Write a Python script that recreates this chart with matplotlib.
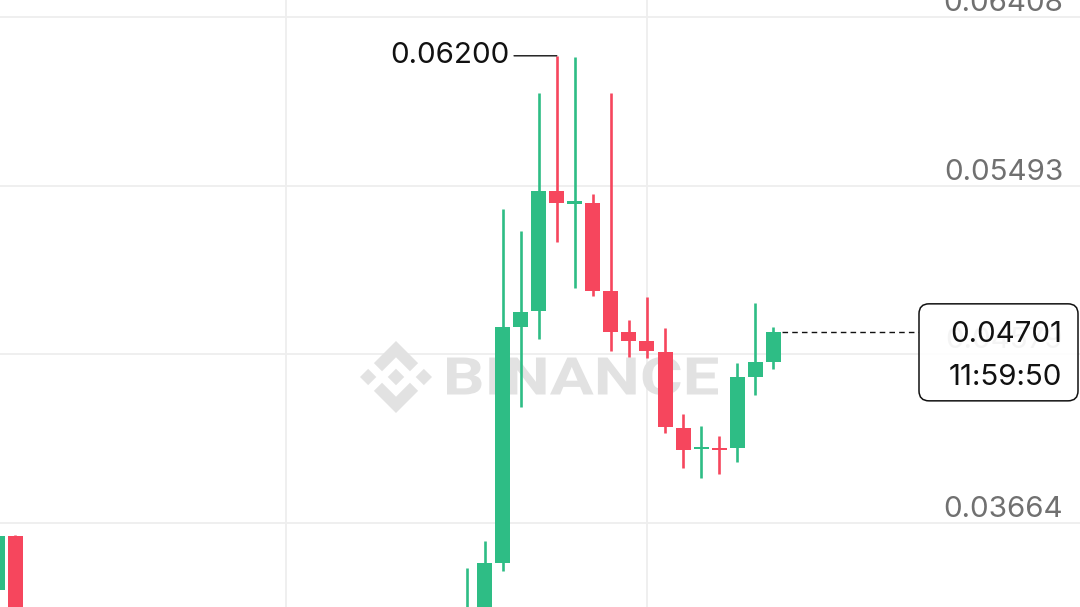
import matplotlib
matplotlib.use("Agg")
import matplotlib.pyplot as plt
from matplotlib.patches import FancyBboxPatch, Polygon, PathPatch
from matplotlib.textpath import TextPath
from matplotlib.font_manager import FontProperties
from matplotlib.transforms import Affine2D, IdentityTransform
from matplotlib.lines import Line2D

# ---------------- data ----------------
slots = [-1, 0, 25, 26, 27, 28, 29, 30, 31, 32, 33, 34, 35, 36, 37, 38, 39, 40, 41, 42]
opens = [0.03299, 0.03592, 0.03000, 0.03160, 0.03446, 0.04727, 0.04814, 0.05466, 0.05400,
         0.05401, 0.04923, 0.04700, 0.04651, 0.04592, 0.04179, 0.04068, 0.04068, 0.04070,
         0.04456, 0.04537]
highs = [0.03603, 0.03598, 0.03419, 0.03565, 0.05368, 0.05249, 0.05998, 0.06200, 0.06195,
         0.05450, 0.05998, 0.04765, 0.04890, 0.04722, 0.04255, 0.04190, 0.04135, 0.04532,
         0.04858, 0.04725]
lows = [0.03280, 0.03100, 0.02950, 0.03120, 0.03402, 0.04293, 0.04662, 0.05189, 0.04939,
        0.04896, 0.04597, 0.04564, 0.04559, 0.04152, 0.03962, 0.03907, 0.03929, 0.03994,
        0.04358, 0.04499]
closes = [0.03592, 0.03150, 0.03160, 0.03446, 0.04727, 0.04809, 0.05466, 0.05401, 0.05405,
          0.04923, 0.04700, 0.04651, 0.04597, 0.04184, 0.04059, 0.04072, 0.04062, 0.04456,
          0.04537, 0.04701]
price_ticks = [0.03664, 0.04579, 0.05493, 0.06408]
price_labels = ["0.03664", "0.04579", "0.05493", "0.06408"]
vgrid_slots = [15, 35]
max_label = "0.06200"
last_price_label = "0.04701"
countdown_label = "11:59:50"

# ---------------- figure ----------------
W, H = 1080, 607
fig = plt.figure(figsize=(W / 100, H / 100), dpi=100)
ax = fig.add_axes([0, 0, 1, 1])
ax.set_xlim(-0.859, 59.0)
ax.set_ylim(0.032068, 0.06503)
ax.axis("off")
fig.patch.set_facecolor("white")

FONT = ["Inter", "DejaVu Sans"]
FS = 21.3
GREEN = "#2EBD85"
RED = "#F6465D"
GRID = "#EEEEEE"
IDT = IdentityTransform()

for t in price_ticks:
    ax.axhline(t, color=GRID, lw=1.3, zorder=0)
for s in vgrid_slots:
    ax.axvline(s, color=GRID, lw=1.3, zorder=0)

def img2disp(x, y):
    return (x, H - y)

# ---------------- watermark ----------------
WM = "#E2E2E2"
logo_polys = [
    [(38.73, 53.2), (63.3, 28.63), (87.89, 53.22), (102.19, 38.92), (63.3, 0), (24.43, 38.87)],
    [(0, 63.31), (14.3, 49.01), (28.6, 63.31), (14.3, 77.61)],
    [(38.73, 73.42), (63.3, 97.99), (87.89, 73.4), (102.2, 87.69), (63.3, 126.61), (24.42, 87.71)],
    [(98.01, 63.31), (112.31, 49.01), (126.61, 63.31), (112.31, 77.61)],
    [(77.82, 63.3), (63.3, 48.78), (48.79, 63.28), (63.3, 77.8)],
]
lx0, ly0, lsize = 360, 341, 72
for poly in logo_polys:
    pts = [img2disp(lx0 + px / 126.61 * lsize, ly0 + py / 126.61 * lsize) for px, py in poly]
    ax.add_patch(Polygon(pts, closed=True, facecolor=WM, edgecolor="none",
                         transform=IDT, zorder=0.5))

tp = TextPath((0, 0), "BINANCE", prop=FontProperties(family=["Roboto", "DejaVu Sans"], weight="bold"), size=50)
ext = tp.get_extents()
tx0, ty0, tw, th = 447, 357, 271, 38
sx = tw / ext.width
sy = th / ext.height
tr = Affine2D().translate(-ext.x0, -ext.y0).scale(sx, sy).translate(tx0, H - (ty0 + th))
ax.add_patch(PathPatch(tr.transform_path(tp), facecolor=WM, edgecolor="none",
                       transform=IDT, zorder=0.5))

# ---------------- candles ----------------
body_w = 0.83
min_h = 0.00013
for s, o, h, l, c in zip(slots, opens, highs, lows, closes):
    col = GREEN if c >= o else RED
    ax.vlines(s, l, h, color=col, lw=1.9, zorder=2)
    bot = min(o, c)
    hgt = max(abs(c - o), min_h)
    if abs(c - o) < min_h:
        bot = (o + c) / 2 - min_h / 2
    ax.bar(s, hgt, bottom=bot, width=body_w, color=col, linewidth=0, zorder=3)

# ---------------- right price labels ----------------
for t, lab in zip(price_ticks, price_labels):
    ax.annotate(lab, xy=(1, t), xycoords=("axes fraction", "data"), xytext=(-17, 6),
                textcoords="offset pixels", ha="right", va="baseline",
                fontsize=FS, color="#707070", family=FONT, zorder=4)

# ---------------- max annotation ----------------
i_max = highs.index(max(highs))
ax.annotate(max_label, xy=(slots[i_max], highs[i_max]), xytext=(27.4, highs[i_max]),
            textcoords="data", ha="right", va="center", fontsize=FS, color="#111111",
            family=FONT, zorder=5,
            arrowprops=dict(arrowstyle="-", color="#111111", lw=1.0, shrinkA=1, shrinkB=0,
                            relpos=(1, 0.5)))

# ---------------- last price box ----------------
last = closes[-1]
fig.canvas.draw()
px_last, py_last = ax.transData.transform((slots[-1] + body_w / 2, last))
box_l, box_r = 919, 1078
box_top = py_last + 28
box_bot = py_last - 69
ax.add_line(Line2D([px_last + 1, box_l], [py_last, py_last], color="#111111", lw=1.0,
                   linestyle=(0, (4, 3)), transform=IDT, zorder=5))
box = FancyBboxPatch((box_l + 10, box_bot + 10), box_r - box_l - 20, box_top - box_bot - 20,
                     boxstyle="round,pad=10,rounding_size=10", facecolor=(1, 1, 1, 0.93),
                     edgecolor="#111111", lw=1.1, transform=IDT, zorder=6)
ax.add_patch(box)
ax.text(1062, py_last - 10, last_price_label, transform=IDT, ha="right", va="baseline",
        fontsize=FS, color="#111111", family=FONT, zorder=7)
ax.text(1062, py_last - 53, countdown_label, transform=IDT, ha="right", va="baseline",
        fontsize=FS, color="#111111", family=FONT, zorder=7)

fig.savefig("out.png", dpi=100, facecolor="white")
